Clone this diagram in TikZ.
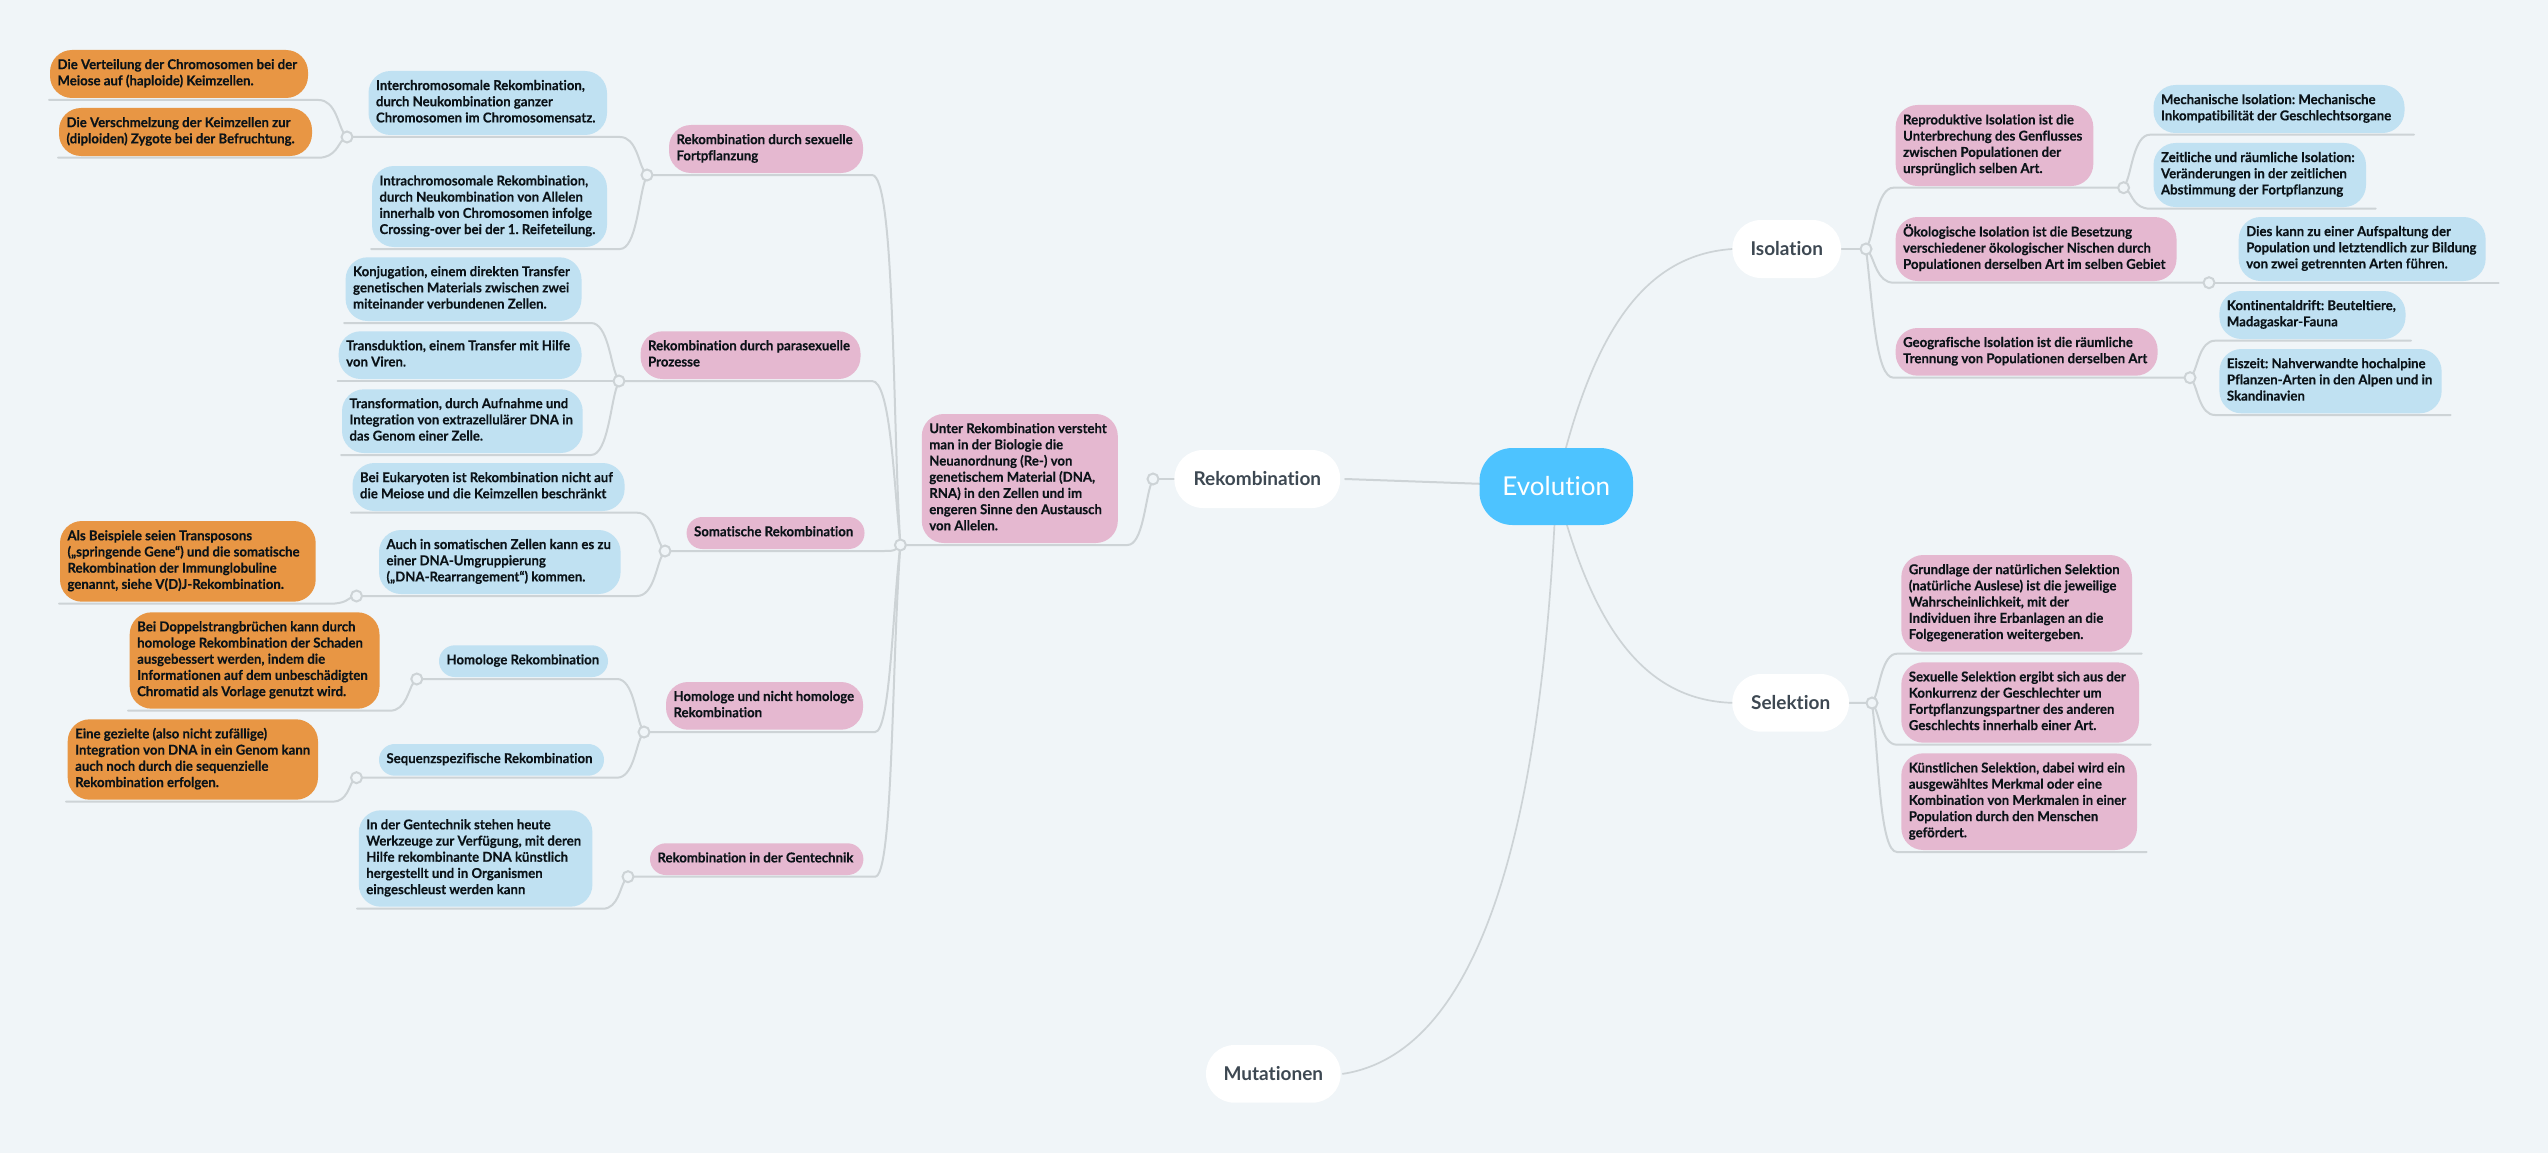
\documentclass[tikz,border=0pt]{standalone}
\usepackage{fontspec}
\setmainfont[Ligatures=NoCommon]{Lato}
\newfontfamily\labelfont[FakeStretch=0.97,Ligatures=NoCommon,BoldFeatures={FakeBold=0.25}]{Lato}
\frenchspacing
\usetikzlibrary{backgrounds,calc}
\definecolor{bgc}{HTML}{F0F5F8}
\definecolor{pinkc}{HTML}{E5B8D0}
\definecolor{bluec}{HTML}{C0E1F2}
\definecolor{orangec}{HTML}{E89644}
\definecolor{rootc}{HTML}{4DC3FF}
\definecolor{linec}{HTML}{CDD3D6}
\definecolor{inkc}{HTML}{0B1318}
\definecolor{slatec}{HTML}{3D4852}
\tikzset{
  boxbase/.style={rectangle,rounded corners=22pt,inner xsep=7.5pt,inner ysep=0pt,outer sep=0pt,text=inkc,
    font=\labelfont\bfseries\fontsize{13.6}{16.2}\selectfont},
  pinkbox/.style={boxbase,fill=pinkc},
  bluebox/.style={boxbase,fill=bluec},
  orangebox/.style={boxbase,fill=orangec},
  flat/.style={rounded corners=15.8pt},
  whitebox/.style={rectangle,rounded corners=28.5pt,fill=white,text=slatec,inner sep=0pt,outer sep=0pt,align=center,
    font=\bfseries\fontsize{19}{22}\selectfont},
  rootbox/.style={rectangle,rounded corners=33pt,fill=rootc,text=white,inner sep=0pt,outer sep=0pt,align=center,
    font=\fontsize{26}{30}\selectfont},
  joint/.style={circle,draw=linec,line width=2pt,fill=bgc,minimum size=11pt,inner sep=0pt,outer sep=0pt},
  link/.style={draw=linec,line width=2pt,line cap=round},
  thinlink/.style={draw=linec,line width=1.7pt,line cap=round}
}
\newcommand\bx[7]{\pgfmathsetmacro\bw{#5-#3}\pgfmathsetmacro\bh{#6-#4}\pgfmathsetmacro\btw{#5-#3-15}\pgfmathsetmacro\cx{(#3+#5)/2}\pgfmathsetmacro\cy{(#4+#6)/2}\node[#2,minimum width=\bw pt,minimum height=\bh pt] (#1) at (\cx,\cy) {\makebox[\btw pt][l]{\begin{tabular}{@{}l@{}}#7\end{tabular}}};}
\newcommand\wx[7]{\pgfmathsetmacro\bw{#5-#3}\pgfmathsetmacro\bh{#6-#4}\pgfmathsetmacro\cx{(#3+#5)/2}\pgfmathsetmacro\cy{(#4+#6)/2}\node[#2,minimum width=\bw pt,minimum height=\bh pt] (#1) at (\cx,\cy) {#7};}
% straight run along the box, then a bend into the joint
\newcommand\lnk[3]{\draw[link] let \p1=(#1), \p2=(#3) in (#1) -- (#2pt,\y1) .. controls ({#2pt+0.6*(\x2-#2pt)},\y1) and ({\x2+0.3*(#2pt-\x2)},{\y2+0.3*(\y1-\y2)}) .. (#3);}
\begin{document}
\begin{tikzpicture}[x=1pt,y=-1pt]
\useasboundingbox (0,0) rectangle (2548,1153);
% root and main topics
\wx{evo}{rootbox}{1479.5}{448}{1633}{525}{Evolution}
\wx{rek}{whitebox}{1174.4}{450}{1340.2}{508}{Rekombination}
\wx{iso}{whitebox}{1732.4}{220}{1841}{278}{Isolation}
\wx{sel}{whitebox}{1732.3}{674}{1849}{731.7}{Selektion}
\wx{mut}{whitebox}{1206}{1045}{1340.7}{1102.7}{Mutationen}
% left side
\bx{unter}{pinkbox}{921.8}{414}{1117.8}{543}{Unter Rekombination versteht\\man in der Biologie die\\Neuanordnung (Re-) von\\genetischem Material (DNA,\\RNA) in den Zellen und im\\engeren Sinne den Austausch\\von Allelen.}
\bx{psex}{pinkbox}{669}{125}{863}{173}{Rekombination durch sexuelle\\Fortpflanzung}
\bx{ppara}{pinkbox}{640.6}{331.3}{860.5}{379}{Rekombination durch parasexuelle\\Prozesse}
\bx{psom}{pinkbox,flat}{686.6}{517}{864.5}{549}{Somatische Rekombination}
\bx{phom}{pinkbox}{666}{682}{863}{729.7}{Homologe und nicht homologe\\Rekombination}
\bx{pgen}{pinkbox,flat}{650}{843.3}{863.4}{875}{Rekombination in der Gentechnik}
\bx{binter}{bluebox}{368.5}{71}{607}{135}{Interchromosomale Rekombination,\\durch Neukombination ganzer\\Chromosomen im Chromosomensatz.}
\bx{bintra}{bluebox}{372}{166}{607}{247}{Intrachromosomale Rekombination,\\durch Neukombination von Allelen\\innerhalb von Chromosomen infolge\\Crossing-over bei der 1. Reifeteilung.}
\bx{bkonj}{bluebox}{345.6}{257.3}{581.5}{321}{Konjugation, einem direkten Transfer\\genetischen Materials zwischen zwei\\miteinander verbundenen Zellen.}
\bx{btransd}{bluebox}{338.7}{331.3}{581.5}{379}{Transduktion, einem Transfer mit Hilfe\\von Viren.}
\bx{btransf}{bluebox}{342}{389.3}{582.7}{453}{Transformation, durch Aufnahme und\\Integration von extrazellulärer DNA in\\das Genom einer Zelle.}
\bx{beuk}{bluebox}{352.5}{463}{624.6}{511}{Bei Eukaryoten ist Rekombination nicht auf\\die Meiose und die Keimzellen beschränkt}
\bx{bauch}{bluebox}{379}{530}{620.6}{594}{Auch in somatischen Zellen kann es zu\\einer DNA-Umgruppierung\\(„DNA-Rearrangement“) kommen.}
\bx{bhom}{bluebox,flat}{439}{645.3}{608}{677}{Homologe Rekombination}
\bx{bseq}{bluebox,flat}{379}{744}{604}{775.7}{Sequenzspezifische Rekombination}
\bx{bgen}{bluebox}{358.8}{810.3}{592.4}{906.7}{In der Gentechnik stehen heute\\Werkzeuge zur Verfügung, mit deren\\Hilfe rekombinante DNA künstlich\\hergestellt und in Organismen\\eingeschleust werden kann}
\bx{oa}{orangebox}{50}{50}{308}{98}{Die Verteilung der Chromosomen bei der\\Meiose auf (haploide) Keimzellen.}
\bx{ob}{orangebox}{59}{108}{312}{156}{Die Verschmelzung der Keimzellen zur\\(diploiden) Zygote bei der Befruchtung.}
\bx{oc}{orangebox}{60}{521}{315.7}{601.7}{Als Beispiele seien Transposons\\(„springende Gene“) und die somatische\\Rekombination der Immunglobuline\\genannt, siehe V(D)J-Rekombination.}
\bx{od}{orangebox}{129.7}{612.3}{379.5}{708.7}{Bei Doppelstrangbrüchen kann durch\\homologe Rekombination der Schaden\\ausgebessert werden, indem die\\Informationen auf dem unbeschädigten\\Chromatid als Vorlage genutzt wird.}
\bx{oe}{orangebox}{67.7}{719.3}{318}{799.7}{Eine gezielte (also nicht zufällige)\\Integration von DNA in ein Genom kann\\auch noch durch die sequenzielle\\Rekombination erfolgen.}
% right side
\bx{prep}{pinkbox}{1895.6}{105}{2093.3}{186}{Reproduktive Isolation ist die\\Unterbrechung des Genflusses\\zwischen Populationen der\\ursprünglich selben Art.}
\bx{poek}{pinkbox}{1895.6}{217}{2176.5}{281}{Ökologische Isolation ist die Besetzung\\verschiedener ökologischer Nischen durch\\Populationen derselben Art im selben Gebiet}
\bx{pgeo}{pinkbox}{1895.6}{328}{2157.6}{375.7}{Geografische Isolation ist die räumliche\\Trennung von Populationen derselben Art}
\bx{bmech}{bluebox}{2153.5}{85}{2404.5}{133}{Mechanische Isolation: Mechanische\\Inkompatibilität der Geschlechtsorgane}
\bx{bzeit}{bluebox}{2153.5}{143}{2366}{207}{Zeitliche und räumliche Isolation:\\Veränderungen in der zeitlichen\\Abstimmung der Fortpflanzung}
\bx{bdies}{bluebox}{2238.7}{217}{2485.6}{281}{Dies kann zu einer Aufspaltung der\\Population und letztendlich zur Bildung\\von zwei getrennten Arten führen.}
\bx{bkont}{bluebox}{2219.4}{291}{2405.5}{339}{Kontinentaldrift: Beuteltiere,\\Madagaskar-Fauna}
\bx{beis}{bluebox}{2219.4}{349}{2441.6}{413.3}{Eiszeit: Nahverwandte hochalpine\\Pflanzen-Arten in den Alpen und in\\Skandinavien}
\bx{pgru}{pinkbox}{1901.3}{555}{2132}{651.7}{Grundlage der natürlichen Selektion\\(natürliche Auslese) ist die jeweilige\\Wahrscheinlichkeit, mit der\\Individuen ihre Erbanlagen an die\\Folgegeneration weitergeben.}
\bx{psxs}{pinkbox}{1901.3}{662.3}{2139}{742.7}{Sexuelle Selektion ergibt sich aus der\\Konkurrenz der Geschlechter um\\Fortpflanzungspartner des anderen\\Geschlechts innerhalb einer Art.}
\bx{pkue}{pinkbox}{1901.3}{753.3}{2137}{850}{Künstlichen Selektion, dabei wird ein\\ausgewähltes Merkmal oder eine\\Kombination von Merkmalen in einer\\Population durch den Menschen\\gefördert.}
% joints
\node[joint] (jmain) at (900.4,545) {};
\node[joint] (jrek) at (1153,479) {};
\node[joint] (jsex) at (647,175) {};
\node[joint] (jinter) at (347,137) {};
\node[joint] (jpara) at (619,381) {};
\node[joint] (jsom) at (665,551) {};
\node[joint] (jauch) at (356.5,596) {};
\node[joint] (jhom) at (644,732) {};
\node[joint] (jbhom) at (416.8,679) {};
\node[joint] (jseq) at (356.5,777.7) {};
\node[joint] (jgen) at (628,876.7) {};
\node[joint] (jiso) at (1866,249) {};
\node[joint] (jrep) at (2123.6,187.7) {};
\node[joint] (joek) at (2209,282.7) {};
\node[joint] (jgeo) at (2190,377.7) {};
\node[joint] (jsel) at (1872,703) {};
% free ends of the underlines
\coordinate (eoa) at (49,100);
\coordinate (eob) at (58,157.7);
\coordinate (eoc) at (59,603.7);
\coordinate (eod) at (128,710.7);
\coordinate (eoe) at (66,801.7);
\coordinate (eintra) at (371,249);
\coordinate (ekonj) at (344,323);
\coordinate (etransd) at (337.5,381);
\coordinate (etransf) at (341,455);
\coordinate (eeuk) at (351,512.7);
\coordinate (egen) at (357,908.7);
\coordinate (emech) at (2414,134.7);
\coordinate (ezeit) at (2375.7,208.7);
\coordinate (edies) at (2498.6,282.7);
\coordinate (ekont) at (2411,340.7);
\coordinate (eeis) at (2450.5,415);
\coordinate (egru) at (2141.7,653.7);
\coordinate (esxs) at (2150.7,744.7);
\coordinate (ekue) at (2146.7,852);
\begin{pgfonlayer}{background}
\fill[bgc] (0,0) rectangle (2548,1153);
% root branches
\draw[thinlink] (evo.center) .. controls (1590,340) and (1640,255) .. (iso.west);
\draw[thinlink] (evo.center) .. controls (1590,620) and (1640,700) .. (sel.west);
\draw[thinlink] (evo.center) .. controls (1545,760) and (1500,1050) .. ($(mut.east)+(2,0)$);
\draw[link] ($(rek.east)+(5,0)$) -- (evo.center);
% rekombination
\draw[link] (jrek) -- (rek.west);
\lnk{jmain}{1127.5}{jrek}
\draw[link] let \p1=(jsex) in (jsex) -- (872pt,\y1) .. controls (895pt,\y1) and ($(jmain)+(-8,-130)$) .. (jmain);
\draw[link] let \p1=(jpara) in (jpara) -- (872pt,\y1) .. controls (890pt,\y1) and ($(jmain)+(-7,-70)$) .. (jmain);
\draw[link] let \p1=(jsom) in (jsom) -- (884pt,\y1) .. controls (890pt,\y1) and (894pt,\y1) .. (jmain);
\draw[link] let \p1=(jhom) in (jhom) -- (875pt,\y1) .. controls (890pt,\y1) and ($(jmain)+(-8,70)$) .. (jmain);
\draw[link] let \p1=(jgen) in (jgen) -- (875pt,\y1) .. controls (893pt,\y1) and ($(jmain)+(-9,130)$) .. (jmain);
\lnk{jinter}{620}{jsex}
\lnk{eintra}{620}{jsex}
\lnk{eoa}{318.6}{jinter}
\lnk{eob}{318.6}{jinter}
\lnk{ekonj}{591}{jpara}
\draw[link] (etransd) -- (jpara);
\lnk{etransf}{591}{jpara}
\lnk{eeuk}{637}{jsom}
\lnk{jauch}{637}{jsom}
\lnk{eoc}{330}{jauch}
\lnk{jbhom}{617}{jhom}
\lnk{jseq}{617}{jhom}
\lnk{eod}{390}{jbhom}
\lnk{eoe}{333}{jseq}
\lnk{egen}{603}{jgen}
% isolation
\draw[link] (jiso) -- (iso.east);
\lnk{jrep}{1893.5}{jiso}
\lnk{joek}{1893.5}{jiso}
\draw[link] let \p1=(jgeo) in (jgeo) -- (1893.5pt,\y1) .. controls (1876pt,\y1) and ($(jiso)+(7,60)$) .. (jiso);
\lnk{emech}{2150}{jrep}
\lnk{ezeit}{2150}{jrep}
\draw[link] (edies) -- (joek);
\lnk{ekont}{2215}{jgeo}
\lnk{eeis}{2215}{jgeo}
% selektion
\draw[link] (jsel) -- (sel.east);
\lnk{egru}{1897}{jsel}
\lnk{esxs}{1897}{jsel}
\draw[link] let \p1=(ekue) in (ekue) -- (1897pt,\y1) .. controls (1880pt,\y1) and ($(jsel)+(7,60)$) .. (jsel);
\end{pgfonlayer}
\end{tikzpicture}
\end{document}
